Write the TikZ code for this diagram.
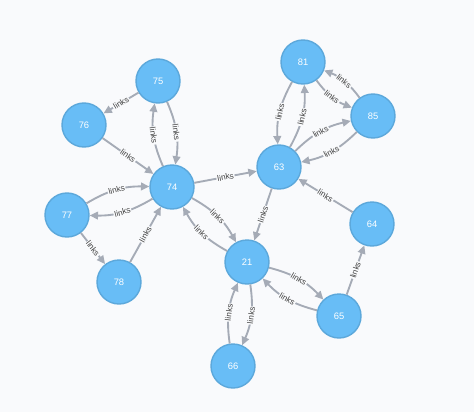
\documentclass[tikz,border=0pt]{standalone}
\usepackage{fontspec}
\setmainfont{Liberation Sans}
\usepackage{tikz}
\usetikzlibrary{arrows.meta}
\definecolor{nodefill}{HTML}{68BDF6}
\definecolor{nodeline}{HTML}{5CA8DB}
\definecolor{linkgray}{HTML}{A5ABB6}
\definecolor{bg}{HTML}{F9FAFC}

\begin{document}
\begin{tikzpicture}[x=0.03cm,y=-0.03cm,every node/.style={font=\fontsize{7}{8}\selectfont},
          vertex/.style={circle,draw=nodeline,fill=nodefill,line width=1.2pt,minimum size=1.32cm,inner sep=0pt,text=white,font=\fontsize{8}{9}\selectfont},
          link/.style={-{Triangle[length=2.5mm,width=2.3mm]},linkgray,line width=1.6pt},
          lbl/.style={midway,sloped,fill=bg,inner sep=0.8pt,text=black!75}]
        \fill[bg] (0,0) rectangle (474,412);
        \node[vertex] (75) at (158,81) {75};
        \node[vertex] (76) at (84,125) {76};
        \node[vertex] (74) at (172,187) {74};
        \node[vertex] (77) at (67,215) {77};
        \node[vertex] (78) at (119,282) {78};
        \node[vertex] (81) at (303,62) {81};
        \node[vertex] (85) at (373,116) {85};
        \node[vertex] (63) at (279,167) {63};
        \node[vertex] (64) at (372,224) {64};
        \node[vertex] (21) at (247,262) {21};
        \node[vertex] (65) at (339,316) {65};
        \node[vertex] (66) at (233,366) {66};
        % single links
        \draw[link] (75) -- node[lbl] {links} (76);
        \draw[link] (76) -- node[lbl] {links} (74);
        \draw[link] (77) -- node[lbl] {links} (78);
        \draw[link] (78) -- node[lbl] {links} (74);
        \draw[link] (74) -- node[lbl] {links} (63);
        \draw[link] (63) -- node[lbl] {links} (21);
        \draw[link] (64) -- node[lbl] {links} (63);
        \draw[link] (65) -- node[lbl] {links} (64);
        % links both ways
        \draw[link] (74) to[bend left=16] node[lbl] {links} (75);
        \draw[link] (75) to[bend left=16] node[lbl] {links} (74);
        \draw[link] (77) to[bend left=16] node[lbl] {links} (74);
        \draw[link] (74) to[bend left=16] node[lbl] {links} (77);
        \draw[link] (74) to[bend left=16] node[lbl] {links} (21);
        \draw[link] (21) to[bend left=16] node[lbl] {links} (74);
        \draw[link] (81) to[bend right=16] node[lbl] {links} (63);
        \draw[link] (63) to[bend right=16] node[lbl] {links} (81);
        \draw[link] (81) to[bend right=16] node[lbl] {links} (85);
        \draw[link] (85) to[bend right=16] node[lbl] {links} (81);
        \draw[link] (63) to[bend left=16] node[lbl] {links} (85);
        \draw[link] (85) to[bend left=16] node[lbl] {links} (63);
        \draw[link] (21) to[bend left=16] node[lbl] {links} (65);
        \draw[link] (65) to[bend left=16] node[lbl] {links} (21);
        \draw[link] (66) to[bend left=16] node[lbl] {links} (21);
        \draw[link] (21) to[bend left=16] node[lbl] {links} (66);
      \end{tikzpicture}
\end{document}
